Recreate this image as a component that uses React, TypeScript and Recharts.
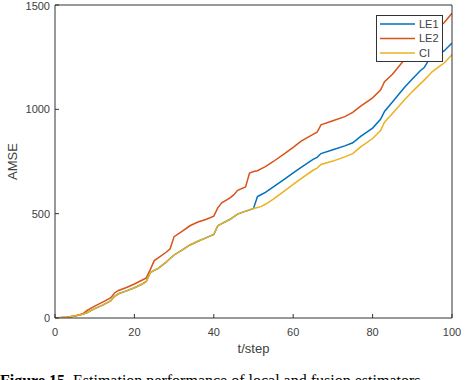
import React from 'react';
import { LineChart, Line, XAxis, YAxis, Legend } from 'recharts';

const steps = [0, 1, 3, 5, 7, 8, 10, 12, 14, 15, 16, 18, 20, 22, 23, 24, 25, 26, 28, 29, 30, 32, 34, 36, 38, 40, 41, 42, 44, 45, 46, 48, 49, 50, 51, 52, 53, 55, 58, 60, 62, 65, 66, 67, 70, 73, 75, 77, 80, 82, 83, 85, 88, 90, 92, 93, 94, 95, 97, 98, 100];
const ciValues = [0, 1, 4, 10, 18, 25, 45, 62, 82, 104, 116, 130, 145, 163, 175, 218, 228, 238, 268, 285, 302, 325, 350, 368, 384, 400, 442, 452, 472, 485, 498, 512, 518, 525, 530, 535, 545, 570, 612, 640, 668, 708, 718, 736, 752, 772, 788, 820, 860, 898, 938, 980, 1045, 1085, 1122, 1140, 1160, 1180, 1208, 1222, 1262];
const le1Values = [0, 1, 4, 10, 18, 25, 45, 62, 82, 104, 116, 130, 145, 163, 175, 218, 228, 238, 268, 285, 302, 325, 350, 368, 384, 400, 442, 452, 472, 485, 498, 512, 518, 525, 582, 592, 602, 628, 668, 695, 722, 760, 770, 788, 806, 825, 840, 870, 910, 952, 990, 1035, 1105, 1145, 1185, 1200, 1232, 1250, 1268, 1280, 1318];
const le2Values = [0, 1, 4, 10, 20, 35, 57, 76, 96, 120, 132, 146, 163, 182, 192, 232, 275, 288, 315, 332, 390, 415, 442, 460, 472, 488, 528, 552, 575, 590, 612, 628, 695, 702, 706, 716, 725, 750, 790, 818, 848, 880, 890, 926, 945, 965, 985, 1015, 1055, 1092, 1132, 1168, 1238, 1272, 1305, 1322, 1340, 1358, 1398, 1415, 1460];

const xTicks = [0, 20, 40, 60, 80, 100];
const yTicks = [0, 500, 1000, 1500];
const seriesKeys = ['LE1', 'LE2', 'CI'];
const seriesColors = ['#0072BD', '#D95319', '#EDB120'];
const xLabel = 't/step';
const yLabel = 'AMSE';
const captionBold = 'Figure 15.';
const captionText = ' Estimation performance of local and fusion estimators';

const data = steps.map((t, i) => ({ t, LE1: le1Values[i], LE2: le2Values[i], CI: ciValues[i] }));

const AXIS = '#333333';
const TEXT = '#404040';
const FONT = '"Liberation Sans", Arial, sans-serif';

const LegendBox = () => (
  <svg width={67} height={48} style={{ display: 'block' }}>
    <rect x={0.5} y={0.5} width={66} height={46} fill="#ffffff" stroke={AXIS} strokeWidth={1} />
    {seriesKeys.map((k, i) => (
      <g key={k}>
        <line x1={4} x2={39} y1={9 + i * 14.5} y2={9 + i * 14.5} stroke={seriesColors[i]} strokeWidth={1.5} />
        <text x={43} y={9 + i * 14.5} dy="0.36em" fontSize={11} fill={TEXT} fontFamily={FONT}>{k}</text>
      </g>
    ))}
  </svg>
);

export default function App() {
  return (
    <div style={{ position: 'absolute', left: 0, top: 0, width: 474, height: 380, background: '#fff', overflow: 'hidden' }}>
      <LineChart width={474} height={380} data={data} margin={{ top: 4, right: 21, bottom: 0, left: 0 }} style={{ fontFamily: FONT }}>
        <XAxis
          xAxisId="b"
          dataKey="t"
          type="number"
          domain={[0, 100]}
          allowDataOverflow
          ticks={xTicks}
          orientation="bottom"
          height={62}
          tickSize={-4}
          tickMargin={14}
          axisLine={{ stroke: AXIS }}
          tickLine={{ stroke: AXIS }}
          tick={{ fill: TEXT, fontSize: 11, fontFamily: FONT }}
          label={(props: any) => {
            const vb = props.viewBox;
            return (
              <text x={vb.x + vb.width / 2} y={vb.y + 35} textAnchor="middle" fontSize={13} fill={TEXT} fontFamily={FONT}>
                {xLabel}
              </text>
            );
          }}
        />
        <XAxis
          xAxisId="t"
          dataKey="t"
          type="number"
          domain={[0, 100]}
          allowDataOverflow
          ticks={xTicks}
          orientation="top"
          height={1}
          tickSize={-4}
          axisLine={{ stroke: AXIS }}
          tickLine={{ stroke: AXIS }}
          tick={false}
        />
        <YAxis
          yAxisId="l"
          type="number"
          domain={[0, 1500]}
          allowDataOverflow
          ticks={yTicks}
          orientation="left"
          width={55}
          tickSize={-4}
          tickMargin={9}
          axisLine={{ stroke: AXIS }}
          tickLine={{ stroke: AXIS }}
          tick={{ fill: TEXT, fontSize: 11, fontFamily: FONT }}
          label={(props: any) => {
            const vb = props.viewBox;
            const cy = vb.y + vb.height / 2;
            return (
              <text x={17} y={cy} transform={`rotate(-90 17 ${cy})`} textAnchor="middle" fontSize={13} fill={TEXT} fontFamily={FONT}>
                {yLabel}
              </text>
            );
          }}
        />
        <YAxis
          yAxisId="r"
          type="number"
          domain={[0, 1500]}
          allowDataOverflow
          ticks={yTicks}
          orientation="right"
          width={1}
          tickSize={-4}
          axisLine={{ stroke: AXIS }}
          tickLine={{ stroke: AXIS }}
          tick={false}
        />
        <Line
          xAxisId="t"
          yAxisId="r"
          type="linear"
          dataKey="CI"
          stroke="none"
          strokeWidth={0}
          dot={false}
          activeDot={false}
          legendType="none"
          isAnimationActive={false}
        />
        {seriesKeys.map((k, i) => (
          <Line
            key={k}
            xAxisId="b"
            yAxisId="l"
            type="linear"
            dataKey={k}
            stroke={seriesColors[i]}
            strokeWidth={1.5}
            dot={false}
            activeDot={false}
            isAnimationActive={false}
          />
        ))}
        <Legend
          layout="vertical"
          align="center"
          verticalAlign="middle"
          wrapperStyle={{ left: 376, top: 15, width: 67, height: 48 }}
          content={() => <LegendBox />}
        />
      </LineChart>
      <div
        style={{
          position: 'absolute',
          left: 0,
          top: 372,
          fontFamily: '"Liberation Serif", "Times New Roman", serif',
          fontSize: 16,
          whiteSpace: 'nowrap',
          color: '#000',
        }}
      >
        <b>{captionBold}</b>
        {captionText}
      </div>
    </div>
  );
}
